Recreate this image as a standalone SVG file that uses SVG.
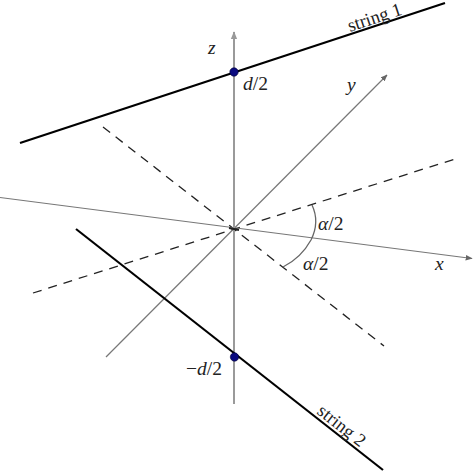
<svg xmlns="http://www.w3.org/2000/svg" width="474" height="474" viewBox="0 0 474 474">
<defs>
<style>
.ax{stroke:#777;stroke-width:1.2;fill:none}
.zax{stroke:#9a9a9a;stroke-width:2;fill:none}
.str{stroke:#000;stroke-width:2.2;fill:none}
.dash{stroke:#222;stroke-width:1.3;fill:none;stroke-dasharray:9 7}
.arc{stroke:#666;stroke-width:1.3;fill:none}
.dot{fill:#0b0b80;stroke:#000033;stroke-width:0.6}
text{font-family:"Liberation Serif","DejaVu Serif",serif;font-size:19.5px;fill:#222}
.it{font-style:italic}
.sl{font-size:18.5px}
</style>
<marker id="ah" viewBox="0 0 10 10" refX="9" refY="5" markerWidth="7" markerHeight="7" markerUnits="userSpaceOnUse" orient="auto">
<path d="M0,1 L10,5 L0,9 Z" fill="#666"/>
</marker>
<marker id="ahz" viewBox="0 0 10 10" refX="9" refY="5" markerWidth="8" markerHeight="8" markerUnits="userSpaceOnUse" orient="auto">
<path d="M0,1 L10,5 L0,9 Z" fill="#999"/>
</marker>
</defs>
<rect width="474" height="474" fill="#fff"/>
<g id="connectors">
<line class="dash" x1="103" y1="127" x2="384" y2="346"/>
<line class="dash" x1="33" y1="293" x2="455" y2="159"/>
<line class="ax" x1="0" y1="197.5" x2="472" y2="258.5" marker-end="url(#ah)"/>
<line class="ax" x1="106" y1="357" x2="387" y2="75" marker-end="url(#ah)"/>
<line class="zax" x1="234" y1="404" x2="234" y2="32" marker-end="url(#ahz)"/>
<line class="str" x1="20" y1="143" x2="445" y2="3"/>
<line class="str" x1="76" y1="229" x2="383" y2="470"/>
<path class="arc" d="M312,205 Q320,222 311,240 Q301,258 283,267"/>
<line x1="229" y1="228" x2="239" y2="230" stroke="#222" stroke-width="2"/>
</g>
<g id="node-top">
<circle class="dot" cx="234" cy="72" r="4.2"/>
<text x="243" y="90"><tspan class="it">d</tspan>/2</text>
</g>
<g id="node-bottom">
<circle class="dot" cx="234.5" cy="357" r="4.2"/>
<text x="186" y="375">−<tspan class="it">d</tspan>/2</text>
</g>
<g id="labels">
<text class="it" x="208" y="54">z</text>
<text class="it" x="347" y="91">y</text>
<text class="it" x="435" y="270">x</text>
<text x="318" y="230"><tspan class="it">α</tspan>/2</text>
<text x="303" y="270"><tspan class="it">α</tspan>/2</text>
<text class="sl" transform="translate(350,32) rotate(-18.4)">string 1</text>
<text class="sl" transform="translate(316,413) rotate(38.3)">string 2</text>
</g>
</svg>
